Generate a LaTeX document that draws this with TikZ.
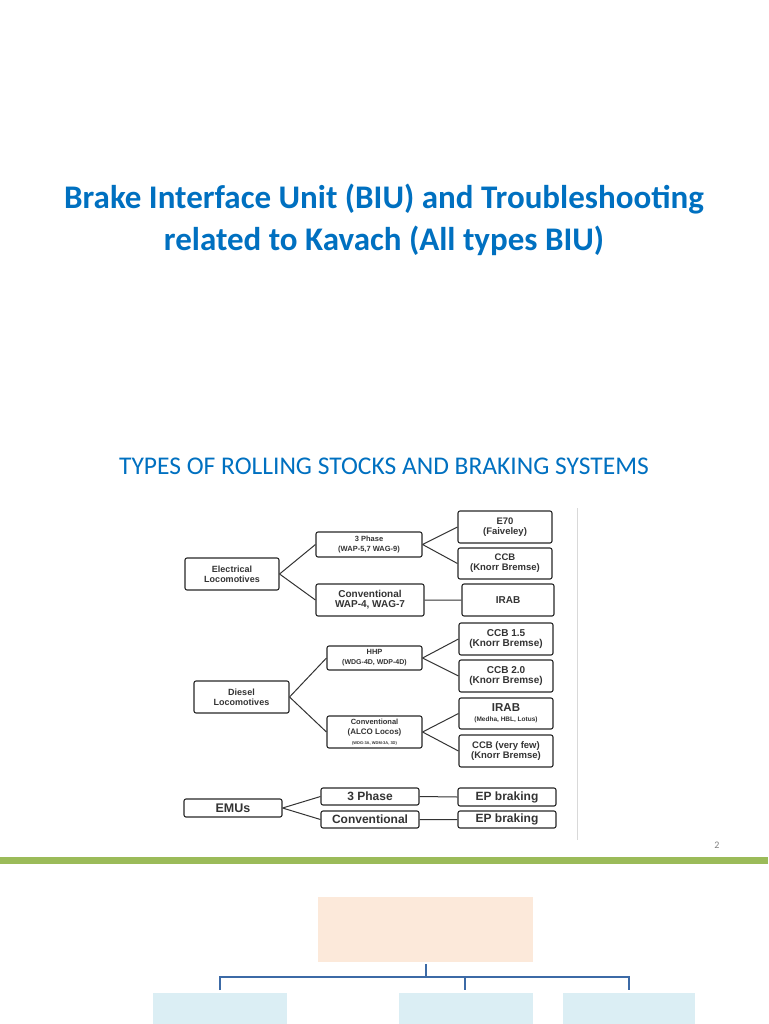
\documentclass[tikz,border=0pt]{standalone}
\usepackage{fontspec}
\setmainfont{Carlito}
\newfontfamily\arialf{Liberation Sans}
\definecolor{tblue}{HTML}{0070C0}
\definecolor{peach}{HTML}{FCE9DA}\definecolor{lblue}{HTML}{DBEEF4}\definecolor{cb}{HTML}{3C6AA6}
\definecolor{bargreen}{HTML}{9BBB59}
\newcommand\bb[6]{\node[bx,minimum width=#4-#2,minimum height=#5-#3] (#1) at ({(#2+#4)/2},{(#3+#5)/2}) {#6};}
\begin{document}
\begin{tikzpicture}[x=1pt,y=-1pt,
  bx/.style={draw=black!85,line width=1.1pt,rounded corners=2pt,inner sep=0pt,align=center,font=\arialf\bfseries\fontsize{9}{10}\selectfont,text=black!80},
  ln/.style={draw=black!80,line width=1pt},
  bl/.style={draw=none,inner sep=0pt,fill=#1}]
\useasboundingbox (0,0) rectangle (768,1024);
\node[text=tblue,font=\bfseries\fontsize{33}{42}\selectfont,align=center] (t1) at (384,220) {Brake Interface Unit (BIU) and Troubleshooting\\related to Kavach (All types BIU)};
\node[text=tblue,font=\fontsize{25.5}{28}\selectfont] (t2) at (384,466) {TYPES OF ROLLING STOCKS AND BRAKING SYSTEMS};
\bb{el}{185}{558}{279}{590}{Electrical\\Locomotives}
\bb{tp}{316}{532}{422}{557}{\fontsize{7.5}{9.5}\selectfont 3 Phase\\\fontsize{7.5}{9.5}\selectfont(WAP-5,7 WAG-9)}
\bb{cw}{316}{584}{424}{616}{\fontsize{10}{13}\selectfont Conventional\\\fontsize{10}{13}\selectfont WAP-4, WAG-7}
\bb{e70}{458}{511}{552}{543}{\fontsize{9.5}{13}\selectfont E70\\\fontsize{9.5}{13}\selectfont(Faiveley)}
\bb{ccb}{458}{548}{552}{579}{\fontsize{9.5}{13}\selectfont CCB\\\fontsize{9.5}{13}\selectfont(Knorr Bremse)}
\bb{irab}{462}{584}{554}{616}{\fontsize{10}{12}\selectfont IRAB}
\bb{dl}{194}{681}{289}{713}{Diesel\\Locomotives}
\bb{hhp}{327}{646}{422}{670}{\fontsize{7.5}{9.5}\selectfont HHP\\\fontsize{7}{9.5}\selectfont(WDG-4D, WDP-4D)}
\bb{alco}{327}{716}{422}{748}{\fontsize{7.5}{9.5}\selectfont Conventional\\\fontsize{8}{10}\selectfont(ALCO Locos)\\\fontsize{4}{6}\selectfont(WDG-3A, WDM-3A, 3D)}
\bb{c15}{459}{623}{553}{655}{\fontsize{10}{13.5}\selectfont CCB 1.5\\\fontsize{10}{13.5}\selectfont(Knorr Bremse)}
\bb{c20}{459}{660}{553}{692}{\fontsize{10}{13.5}\selectfont CCB 2.0\\\fontsize{10}{13.5}\selectfont(Knorr Bremse)}
\bb{ir2}{459}{698}{553}{729}{\fontsize{11.5}{13}\selectfont IRAB\\\fontsize{6.5}{10}\selectfont(Medha, HBL, Lotus)}
\bb{cvf}{459}{735}{553}{767}{\fontsize{9.5}{12.5}\selectfont CCB (very few)\\\fontsize{9.5}{12.5}\selectfont(Knorr Bremse)}
\bb{emu}{184}{799}{282}{817}{\fontsize{12.5}{13}\selectfont EMUs}
\bb{e3}{321}{788}{419}{805}{\fontsize{12}{13}\selectfont 3 Phase}
\bb{ec}{321}{811}{419}{828}{\fontsize{12}{13}\selectfont Conventional}
\bb{ep1}{458}{788}{556}{806}{\fontsize{12}{13}\selectfont EP braking}
\bb{ep2}{458}{811}{556}{828}{\fontsize{12}{13}\selectfont EP braking}
\draw[ln] (el.east)--(tp.west) (el.east)--(cw.west) (tp.east)--(e70.west) (tp.east)--(ccb.west) (cw.east)--(irab.west);
\draw[ln] (dl.east)--(hhp.west) (dl.east)--(alco.west) (hhp.east)--(c15.west) (hhp.east)--(c20.west) (alco.east)--(ir2.west) (alco.east)--(cvf.west);
\draw[ln] (emu.east)--(e3.west) (emu.east)--(ec.west) (e3.east)--(ep1.west) (ec.east)--(ep2.west);
\coordinate (g1) at (577,508); \coordinate (g2) at (577,840);
\draw[black!15,line width=1pt] (g1)--(g2);
\node[text=black!50,font=\fontsize{10}{12}\selectfont] (pn) at (717,845) {2};
\fill[bargreen] (0,857) rectangle (768,864);
\node[bl=peach,minimum width=215,minimum height=65] (pk) at (425.5,929.5) {};
\node[bl=lblue,minimum width=134,minimum height=40,anchor=north west] (b1) at (153,993) {};
\node[bl=lblue,minimum width=134,minimum height=40,anchor=north west] (b2) at (399,993) {};
\node[bl=lblue,minimum width=132,minimum height=40,anchor=north west] (b3) at (563,993) {};
\draw[cb,line width=1.6pt] (426,964)--(426,977) (220,990)--(220,977)--(629,977)--(629,990) (465,977)--(465,990);
\end{tikzpicture}
\end{document}
